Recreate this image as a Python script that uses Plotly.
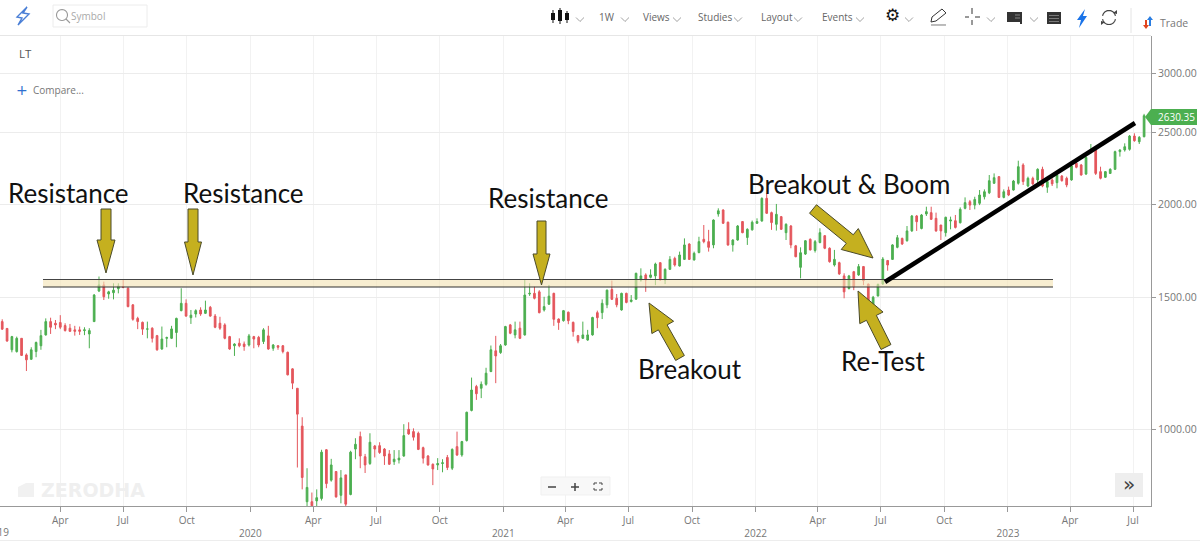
import math
import pandas as pd
import plotly.graph_objects as go

SYMBOL = "LT"
LAST_PRICE = "2630.35"

opens = [
 1393,1364,1277,1270,1323,1257,1240,1270,1293,1337,
 1393,1386,1389,1376,1365,1358,1358,1355,1341,1393,
 1531,1560,1517,1523,1542,1552,1544,1467,1407,1390,
 1361,1365,1334,1280,1323,1323,1347,1441,1474,1410,
 1426,1444,1429,1456,1417,1386,1379,1330,1293,1303,
 1300,1296,1330,1327,1310,1333,1283,1293,1293,1267,
 1204,1134,1009,799,799,801,807,938,854,877,
 815,868,817,940,977,918,899,949,950,940,
 926,904,909,920,999,992,987,944,920,897,
 895,899,916,886,947,923,965,1059,1140,1134,
 1148,1194,1273,1266,1296,1379,1337,1365,1337,1517,
 1520,1527,1444,1470,1520,1404,1397,1434,1390,1334,
 1323,1316,1337,1432,1432,1467,1538,1497,1444,1520,
 1482,1493,1584,1609,1597,1604,1671,1584,1637,1693,
 1654,1688,1770,1685,1724,1796,1783,1765,1942,1966,
 1893,1765,1792,1897,1806,1849,1887,1900,2038,1950,
 1881,1926,1833,1871,1760,1647,1716,1796,1735,1778,
 1816,1747,1659,1671,1604,1543,1625,1609,1651,1564,
 1467,1508,1565,1682,1688,1752,1801,1788,1843,1930,
 1857,1942,1950,1916,1877,1833,1900,1902,1890,1976,
 2017,1996,2007,2048,2073,2135,2179,2044,2091,2091,
 2135,2259,2117,2168,2157,2229,2109,2157,2139,2183,
 2168,2157,2271,2259,2197,2347,2366,2213,2175,2201,
 2229,2354,2366,2371,2470,2427,2465]
closes = [
 1361,1312,1330,1323,1255,1238,1277,1306,1334,1393,
 1369,1379,1369,1355,1352,1352,1352,1358,1355,1512,
 1560,1504,1527,1535,1555,1549,1459,1403,1393,1361,
 1362,1323,1277,1320,1326,1362,1407,1474,1417,1421,
 1441,1426,1444,1417,1369,1365,1323,1280,1300,1293,
 1290,1333,1320,1296,1358,1280,1296,1287,1270,1182,
 1152,1047,861,835,789,809,931,845,895,811,
 860,793,931,954,920,895,960,940,930,920,
 897,911,914,980,985,975,939,914,895,884,
 899,901,888,939,923,962,1053,1128,1115,1148,
 1188,1277,1253,1293,1372,1344,1358,1323,1512,1520,
 1497,1432,1459,1507,1403,1389,1441,1397,1351,1312,
 1337,1337,1411,1410,1474,1535,1492,1467,1520,1478,
 1489,1617,1604,1584,1609,1664,1584,1637,1688,1659,
 1711,1765,1688,1720,1783,1783,1752,1906,1961,1887,
 1765,1792,1871,1833,1852,1893,1897,2038,1946,1891,
 1940,1852,1881,1765,1702,1723,1788,1738,1783,1833,
 1747,1676,1688,1614,1527,1604,1551,1651,1581,1474,
 1502,1562,1690,1659,1765,1805,1770,1843,1930,1896,
 1936,1956,1910,1843,1843,1922,1906,1863,1970,2011,
 1996,2031,2059,2080,2152,2172,2044,2080,2059,2150,
 2247,2146,2168,2131,2229,2117,2146,2131,2190,2152,
 2124,2252,2243,2190,2312,2366,2201,2168,2213,2229,
 2354,2366,2390,2470,2435,2460,2630.35]
highs = [
 1403,1365,1333,1330,1323,1263,1287,1310,1358,1407,
 1410,1400,1421,1386,1383,1375,1372,1369,1365,1517,
 1601,1576,1532,1568,1568,1584,1549,1470,1414,1393,
 1393,1369,1337,1372,1330,1375,1410,1544,1492,1444,
 1447,1456,1486,1462,1426,1414,1386,1333,1303,1323,
 1310,1341,1333,1333,1365,1375,1300,1296,1296,1270,
 1206,1134,1037,886,822,830,938,940,912,877,
 881,868,935,972,992,926,987,952,960,943,
 937,937,937,1015,1021,1002,992,947,923,899,
 914,911,923,942,992,964,1055,1172,1146,1158,
 1208,1294,1333,1300,1375,1383,1393,1393,1584,1568,
 1552,1535,1504,1560,1523,1407,1444,1437,1393,1337,
 1393,1358,1414,1441,1492,1538,1581,1517,1523,1523,
 1512,1620,1642,1617,1637,1671,1672,1642,1705,1702,
 1729,1801,1774,1729,1810,1877,1849,1910,1976,1970,
 1897,1796,1877,1900,1858,1903,1916,2044,2070,1956,
 2003,1930,1887,1877,1765,1752,1792,1801,1792,1858,
 1820,1752,1738,1676,1617,1609,1629,1664,1654,1567,
 1508,1567,1700,1685,1769,1820,1805,1871,1936,1936,
 1942,1986,1986,1950,1877,1926,1926,1936,1982,2044,
 2028,2048,2091,2095,2190,2201,2183,2095,2113,2157,
 2289,2271,2179,2179,2236,2247,2157,2168,2197,2190,
 2179,2259,2282,2266,2321,2410,2371,2247,2217,2236,
 2361,2371,2415,2478,2491,2470,2645]
lows = [
 1358,1309,1267,1266,1253,1196,1238,1248,1277,1334,
 1341,1361,1361,1351,1350,1334,1337,1336,1283,1392,
 1526,1489,1495,1492,1520,1544,1456,1397,1361,1337,
 1323,1306,1273,1277,1287,1320,1287,1438,1414,1383,
 1411,1418,1426,1414,1365,1358,1319,1277,1253,1287,
 1273,1290,1283,1287,1300,1277,1273,1277,1263,1180,
 1131,888,830,785,780,782,802,833,850,809,
 795,785,815,911,886,873,895,916,926,895,
 895,895,899,918,982,965,937,899,893,841,
 881,875,881,881,920,918,962,1056,1094,1100,
 1143,1192,1152,1261,1293,1340,1323,1320,1334,1508,
 1492,1429,1437,1467,1375,1358,1393,1382,1330,1303,
 1320,1313,1334,1365,1404,1452,1489,1456,1441,1474,
 1478,1490,1576,1527,1592,1559,1581,1564,1634,1651,
 1651,1685,1685,1682,1720,1774,1729,1747,1926,1883,
 1760,1729,1788,1830,1765,1845,1883,1897,1942,1849,
 1845,1849,1792,1747,1699,1592,1711,1735,1724,1774,
 1742,1671,1651,1609,1497,1538,1535,1604,1559,1459,
 1459,1505,1560,1630,1685,1747,1765,1783,1838,1843,
 1852,1930,1906,1838,1792,1811,1852,1857,1886,1970,
 1966,1970,1996,2031,2065,2131,2040,2038,2052,2087,
 2126,2124,2109,2124,2113,2109,2073,2117,2102,2146,
 2109,2152,2236,2186,2190,2342,2190,2161,2170,2197,
 2224,2318,2354,2361,2427,2410,2460]
dates = pd.date_range("2019-01-07", periods=len(closes), freq="7D")

x_tick_dates = ["2019-04-01","2019-07-01","2019-10-01","2020-01-01","2020-04-01","2020-07-01","2020-10-01",
                "2021-01-01","2021-04-01","2021-07-01","2021-10-01","2022-01-01","2022-04-01","2022-07-01",
                "2022-10-01","2023-01-01","2023-04-01","2023-07-01"]
x_tick_text = ["Apr","Jul","Oct","<br>2020","Apr","Jul","Oct","<br>2021","Apr","Jul","Oct","<br>2022","Apr","Jul",
               "Oct","<br>2023","Apr","Jul"]
y_tick_vals = [1000, 1500, 2000, 2500, 3000]
y_tick_text = ["1000.00", "1500.00", "2000.00", "2500.00", "3000.00"]

W, H = 1200, 543
PLOT_R, PLOT_T, PLOT_B = 1151, 36, 506
GREEN, RED = "#4caf50", "#e4565c"
GREY = "#777777"
LABEL = "Lato"
UI = "Open Sans"

def X(p): return p / W
def Y(p): return 1 - p / H
def path(points, close=True):
    s = "M " + " L ".join(f"{X(a):.5f},{Y(b):.5f}" for a, b in points)
    return s + (" Z" if close else "")

shapes = []
def poly(points, fill="rgba(0,0,0,0)", line="rgba(0,0,0,0)", width=0, close=True, layer="above"):
    shapes.append(dict(type="path", xref="paper", yref="paper", path=path(points, close),
                       fillcolor=fill, line=dict(color=line, width=width), layer=layer))
def seg(a, b, color, width):
    poly([a, b], line=color, width=width, close=False)
def rect(x0, y0, x1, y1, fill="rgba(0,0,0,0)", line="rgba(0,0,0,0)", width=0, layer="above"):
    poly([(x0, y0), (x1, y0), (x1, y1), (x0, y1)], fill=fill, line=line, width=width, layer=layer)
def arc(cx, cy, r, a0, a1, n=24):
    return [(cx + r * math.cos(math.radians(a0 + (a1 - a0) * i / n)),
             cy + r * math.sin(math.radians(a0 + (a1 - a0) * i / n))) for i in range(n + 1)]
def chevron(cx, cy=19.5):
    poly([(cx - 4, cy - 2), (cx, cy + 2), (cx + 4, cy - 2)], line="#8a8a8a", width=0.8, close=False)
def arrow(tail, tip, sw, hw, hl):
    dx, dy = tip[0] - tail[0], tip[1] - tail[1]
    n = math.hypot(dx, dy); ux, uy = dx / n, dy / n; px, py = -uy, ux
    bx, by = tip[0] - ux * hl, tip[1] - uy * hl
    pts = [(tail[0] + px * sw / 2, tail[1] + py * sw / 2), (bx + px * sw / 2, by + py * sw / 2),
           (bx + px * hw / 2, by + py * hw / 2), tip, (bx - px * hw / 2, by - py * hw / 2),
           (bx - px * sw / 2, by - py * sw / 2), (tail[0] - px * sw / 2, tail[1] - py * sw / 2)]
    poly(pts, fill="#c5b01f", line="#4a4a2a", width=1)

annots = []
def txt(x, y, s, size=11, color=GREY, anchor="left", font=UI):
    annots.append(dict(xref="paper", yref="paper", x=X(x), y=Y(y), text=s, showarrow=False,
                       xanchor=anchor, yanchor="middle", borderpad=0,
                       font=dict(family=font, size=size, color=color)))

# resistance band
rect(43, 279.5, 1053, 287, fill="rgba(243,228,180,0.62)")
seg((43, 279.5), (1053, 279.5), "#444444", 1.2)
seg((43, 287), (1053, 287), "#333333", 1.2)

# drawn arrows and trend line
arrow((106, 209), (106, 273), 10, 18, 33)
arrow((193, 209), (193, 275), 10, 17, 33)
arrow((541.5, 221), (541.5, 285), 9, 17, 31)
arrow((680, 358), (649, 303), 10, 25, 28)
arrow((813, 209), (873, 258), 11, 27, 30)
arrow((886, 347), (858, 291), 11, 26, 30)
seg((885, 282), (1135, 123), "#000000", 4.5)

for x, y, s in [(68, 193, "Resistance"), (243, 193, "Resistance"), (548, 198, "Resistance"),
                (849, 184, "Breakout &amp; Boom"), (690, 369, "Breakout"), (883, 361, "Re-Test")]:
    txt(x, y, s, size=26, color="#111111", anchor="center", font=LABEL)

# last price tag
poly([(1145, 117), (1151, 109), (1197, 109), (1197, 125), (1151, 125)], fill=GREEN)
txt(1176, 117, LAST_PRICE, size=10, color="#ffffff", anchor="center")

# header strip
seg((0, 35.5), (1151, 35.5), "#e6e6e6", 1)
poly([(27, 7), (17, 17), (22, 18), (18, 25), (29, 14), (23, 13)], line="#4a7fd6", width=1.4)
rect(53, 5, 147, 27, line="#ececec", width=1)
poly(arc(62, 15, 5.5, 0, 360), line="#999999", width=1.1)
seg((66, 19), (70, 23), "#999999", 1.1)
txt(70, 16, "Symbol", size=10, color="#aaaaaa")
for cx, t, b, wt, wb in [(553, 13, 20, 10, 23), (560, 10, 21, 8, 24), (567, 13, 20, 11, 23)]:
    seg((cx, wt), (cx, wb), "#111111", 1)
    rect(cx - 2, t, cx + 2, b, fill="#111111")
for cx, s, cc in [(607, "1W", 625), (656, "Views", 677), (715, "Studies", 738),
                  (777, "Layout", 798), (837, "Events", 860)]:
    txt(cx, 17, s, size=10, color="#666666", anchor="center")
    chevron(cc)
for cc in [580, 909, 991, 1034]:
    chevron(cc)
txt(892, 15.5, "\u2699", size=17, color="#111111", anchor="center", font="DejaVu Sans")
poly([(931, 22), (932, 17), (942, 9), (946, 13), (936, 21)], line="#333333", width=1)
seg((931, 25), (946, 25), "#555555", 0.8)
for a, b in [((972, 8), (972, 14)), ((972, 20), (972, 25)), ((965, 17), (969, 17)), ((975, 17), (980, 17))]:
    seg(a, b, "#333333", 1)
poly([(1007, 12), (1022, 12), (1022, 24), (1020, 24), (1020, 22), (1007, 22)], fill="#333333")
for yy in [15, 18]:
    seg((1015, yy), (1020, yy), "#aaaaaa", 0.7)
rect(1047, 12, 1061, 24, fill="#333333")
for yy in [15.5, 18.5, 21.5]:
    seg((1049, yy), (1059, yy), "#999999", 0.7)
poly([(1085, 9), (1077, 20), (1081, 20), (1079, 28), (1087, 16), (1083, 16)], fill="#1a73e8")
poly(arc(1109, 17, 6.5, 190, 350), line="#444444", width=1.2, close=False)
poly(arc(1109, 18, 6.5, 10, 170), line="#444444", width=1.2, close=False)
poly([(1113, 13), (1117, 14), (1117, 10)], fill="#444444")
poly([(1105, 22), (1101, 21), (1101, 25)], fill="#444444")
seg((1131, 8), (1131, 33), "#e4e4e4", 1)
poly([(1150, 16), (1147, 20), (1149, 20), (1149, 26), (1151, 26), (1151, 20), (1153, 20)], fill="#2a7de1")
poly([(1146, 29), (1143, 25), (1145, 25), (1145, 20), (1147, 20), (1147, 25), (1149, 25)], fill="#e2451f")
txt(1174, 23, "Trade", size=10.5, color="#777777", anchor="center")
txt(18, 54, SYMBOL, size=11.5, color="#555555")
txt(22, 90, "+", size=14, color="#2f6fd0", anchor="center", font="DejaVu Sans")
txt(32, 90, "Compare...", size=10, color="#777777")

# watermark and chart controls
poly([(18, 497), (18, 487), (26, 483), (34, 483), (34, 497)], fill="#f1f1f1")
txt(40, 490, "<b>ZERODHA</b>", size=19, color="#efefef", font="DejaVu Sans")
rect(541, 477, 610, 495, fill="#f8f8f8", line="#f0f0f0", width=1)
seg((548, 487), (556, 487), "#444444", 1.5)
seg((571, 487), (579, 487), "#444444", 1.5)
seg((575, 483), (575, 491), "#444444", 1.5)
for a, b, c in [((594, 485), (594, 483), (597, 483)), ((599, 483), (602, 483), (602, 485)),
                ((594, 488), (594, 490), (597, 490)), ((599, 490), (602, 490), (602, 488))]:
    poly([a, b, c], line="#444444", width=1, close=False)
rect(1115, 473, 1143, 497, fill="#eeeeee")
txt(1129, 484, "\u00bb", size=20, color="#444444", anchor="center", font="DejaVu Sans")

# first year label, cut off by the frame as in the reference
txt(-3, 531.5, "2019", size=10, color=GREY, anchor="center")
seg((0, 540.5), (1200, 540.5), "#ededed", 1)

fig = go.Figure(go.Candlestick(
    x=dates, open=opens, high=highs, low=lows, close=closes,
    increasing=dict(line=dict(color=GREEN, width=1), fillcolor=GREEN),
    decreasing=dict(line=dict(color=RED, width=1), fillcolor=RED),
    whiskerwidth=0, hoverinfo="skip", showlegend=False))

fig.update_layout(
    width=W, height=H, margin=dict(l=0, r=0, t=0, b=0), boxgap=0.5,
    paper_bgcolor="#ffffff", plot_bgcolor="#ffffff", showlegend=False,
    shapes=shapes, annotations=annots,
    xaxis=dict(domain=[0, PLOT_R / W], range=["2019-01-03 19:00", "2023-07-27"],
               rangeslider=dict(visible=False), tickmode="array", tickvals=x_tick_dates, ticktext=x_tick_text,
               tickangle=0, ticks="outside", ticklen=5, tickcolor="#999999", showline=True, linecolor="#999999",
               showgrid=True, gridcolor="#f2f2f2", zeroline=False,
               tickfont=dict(family=UI, size=10, color=GREY)),
    yaxis=dict(domain=[1 - PLOT_B / H, 1 - PLOT_T / H], type="log", side="right",
               range=[2.8968, 3.5268], tickmode="array", tickvals=y_tick_vals, ticktext=y_tick_text,
               ticks="outside", ticklen=4, tickcolor="#999999", showline=True, linecolor="#999999",
               showgrid=True, gridcolor="#ececec", zeroline=False,
               tickfont=dict(family=UI, size=10.5, color=GREY)),
)

fig.write_html("out.html", config=dict(displayModeBar=False),
               post_script="document.body.style.margin='0';")
